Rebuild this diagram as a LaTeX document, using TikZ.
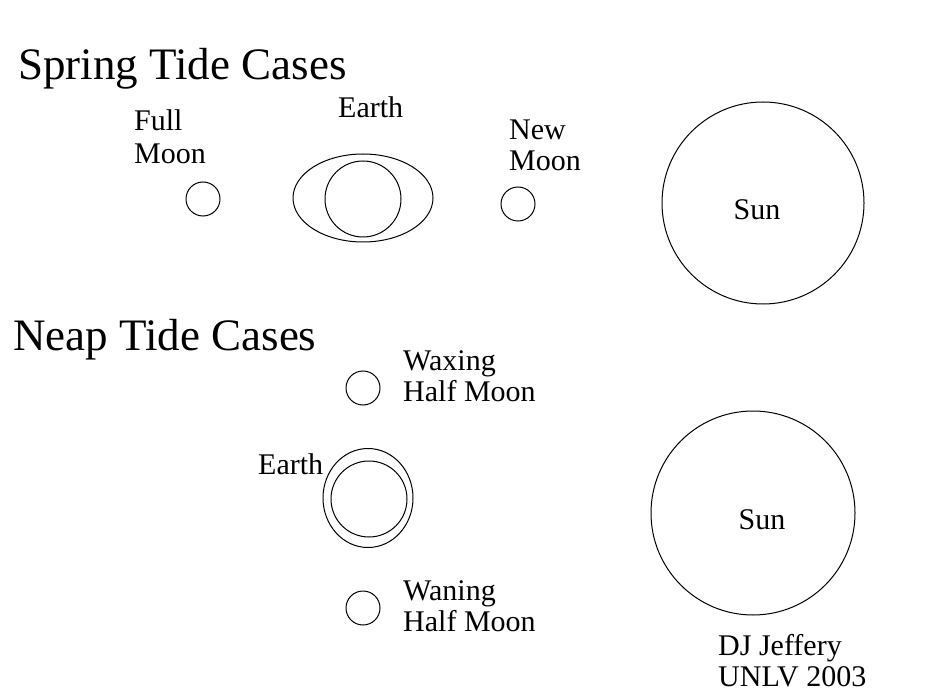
\documentclass[tikz,border=0pt]{standalone}
\usepackage{fontspec}
\setmainfont{Liberation Serif}
\begin{document}
\begin{tikzpicture}[x=1pt,y=-1pt,
  body/.style={draw=black,line width=1pt},
  big/.style={font=\fontsize{45}{50}\selectfont,inner sep=0pt,anchor=base west},
  lbl/.style={font=\fontsize{30}{33}\selectfont,inner sep=0pt,anchor=base west},
  sunlbl/.style={font=\fontsize{30}{33}\selectfont,inner sep=0pt}]
\useasboundingbox (0,0) rectangle (936,700);
\fill[white] (0,0) rectangle (936,700);
% titles
\node[big] (t1) at (18,80) {Spring Tide Cases};
\node[big] (t2) at (13,350) {Neap Tide Cases};
% spring
\draw[body] (363,198) ellipse [x radius=70, y radius=44];
\draw[body] (363,199) circle [radius=38];
\draw[body] (203,199) circle [radius=17];
\draw[body] (518,204) circle [radius=17];
\draw[body] (763,203) circle [radius=101];
\node[lbl] (fm1) at (134,131) {Full};
\node[lbl] (fm2) at (134,164) {Moon};
\node[lbl] (e1) at (338,118) {Earth};
\node[lbl] (nm1) at (509,140) {New};
\node[lbl] (nm2) at (509,171) {Moon};
\node[sunlbl] (s1) at (757,210) {Sun};
% neap
\draw[body] (368,498) ellipse [x radius=45, y radius=49.5];
\draw[body] (369,499) circle [radius=38];
\draw[body] (363,388) circle [radius=17];
\draw[body] (363,608) circle [radius=17];
\draw[body] (753,513) circle [radius=102];
\node[lbl] (wx1) at (403,370) {Waxing};
\node[lbl] (wx2) at (403,401) {Half Moon};
\node[lbl] (e2) at (258,474) {Earth};
\node[lbl] (wn1) at (403,600) {Waning};
\node[lbl] (wn2) at (403,631) {Half Moon};
\node[sunlbl] (s2) at (762,520) {Sun};
\node[lbl] (c1) at (718,655) {DJ Jeffery};
\node[lbl] (c2) at (718,686) {UNLV 2003};
\end{tikzpicture}
\end{document}
